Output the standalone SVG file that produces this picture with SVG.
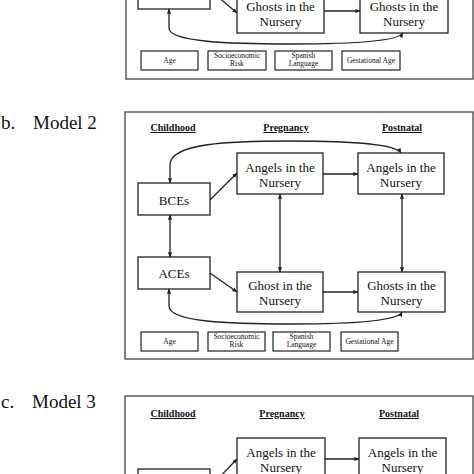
<svg xmlns="http://www.w3.org/2000/svg" width="474" height="474" viewBox="0 0 474 474">
<style>
.frame{fill:none;stroke:#444;stroke-width:1.3}
.box{fill:#fff;stroke:#222;stroke-width:1.3}
.cov{fill:#fff;stroke:#222;stroke-width:1.2}
.t{font-family:"Liberation Serif",serif;font-size:13px;fill:#111;text-anchor:middle}
.h{font-family:"Liberation Serif",serif;font-size:10px;font-weight:bold;fill:#111;text-anchor:middle;text-decoration:underline}
.c{font-family:"Liberation Serif",serif;font-size:7.5px;fill:#111;text-anchor:middle}
.lab{font-family:"Liberation Serif",serif;font-size:19px;fill:#111}
.ln{fill:none;stroke:#222;stroke-width:1.3}
</style>
<defs>
<marker id="ah" viewBox="0 0 10 10" refX="9" refY="5" markerWidth="4" markerHeight="4" orient="auto-start-reverse" markerUnits="strokeWidth">
<path d="M0,1 L10,5 L0,9 z" fill="#222"/>
</marker>
</defs>
<rect width="474" height="474" fill="#fff"/>

<g id="model1">
<rect class="frame" x="126" y="-40" width="347" height="119"/>
<g id="m1-aces"><rect class="box" x="138" y="-25" width="72" height="34"/></g>
<g id="m1-ghost1"><rect class="box" x="237" y="-7" width="87" height="40"/>
<text class="t" x="280.5" y="11">Ghosts in the</text><text class="t" x="280.5" y="26">Nursery</text></g>
<g id="m1-ghost2"><rect class="box" x="360" y="-7" width="88" height="40"/>
<text class="t" x="404" y="11">Ghosts in the</text><text class="t" x="404" y="26">Nursery</text></g>
<g id="m1-age"><rect class="cov" x="141" y="51" width="57" height="19"/><text class="c" x="169.5" y="63">Age</text></g>
<g id="m1-ses"><rect class="cov" x="208" y="51" width="58" height="19"/><text class="c" x="237" y="58">Socioeconomic</text><text class="c" x="237" y="66">Risk</text></g>
<g id="m1-span"><rect class="cov" x="275" y="51" width="57" height="19"/><text class="c" x="303.5" y="58">Spanish</text><text class="c" x="303.5" y="66">Language</text></g>
<g id="m1-gest"><rect class="cov" x="342" y="51" width="58" height="19"/><text class="c" x="371" y="63">Gestational Age</text></g>
<g id="m1-connectors">
<line class="ln" x1="210" y1="-10" x2="237" y2="13" marker-end="url(#ah)"/>
<line class="ln" x1="324" y1="11" x2="360" y2="11" marker-end="url(#ah)"/>
<path class="ln" d="M169,9 L169,28 C169,42 230,44 290,44 C350,44 398,41 403,33" marker-start="url(#ah)" marker-end="url(#ah)"/>
</g>
</g>

<g id="model2">
<text class="lab" x="1" y="129">b.</text>
<text class="lab" x="33" y="129">Model 2</text>
<rect class="frame" x="125" y="112" width="348" height="247"/>
<text class="h" x="173" y="131">Childhood</text>
<text class="h" x="286" y="131">Pregnancy</text>
<text class="h" x="402" y="131">Postnatal</text>
<g id="m2-connectors">
<path class="ln" d="M170,183 L170,165 C170,143 230,141 290,141 C350,141 396,144 401,153" marker-start="url(#ah)" marker-end="url(#ah)"/>
<line class="ln" x1="210" y1="200" x2="237" y2="173" marker-end="url(#ah)"/>
<line class="ln" x1="323" y1="174" x2="358" y2="174" marker-end="url(#ah)"/>
<line class="ln" x1="170" y1="215" x2="170" y2="257" marker-start="url(#ah)" marker-end="url(#ah)"/>
<line class="ln" x1="280" y1="194" x2="280" y2="272" marker-start="url(#ah)" marker-end="url(#ah)"/>
<line class="ln" x1="402" y1="194" x2="402" y2="272" marker-start="url(#ah)" marker-end="url(#ah)"/>
<line class="ln" x1="210" y1="273" x2="237" y2="292" marker-end="url(#ah)"/>
<line class="ln" x1="323" y1="292" x2="358" y2="292" marker-end="url(#ah)"/>
<path class="ln" d="M169,289 L169,306 C169,322 230,324 290,324 C350,324 398,321 402,312" marker-start="url(#ah)" marker-end="url(#ah)"/>
</g>
<g id="m2-bces"><rect class="box" x="138" y="183" width="72" height="32"/><text class="t" x="174" y="205">BCEs</text></g>
<g id="m2-angels1"><rect class="box" x="237" y="153" width="86" height="41"/>
<text class="t" x="280" y="172">Angels in the</text><text class="t" x="280" y="187">Nursery</text></g>
<g id="m2-angels2"><rect class="box" x="358" y="153" width="86" height="41"/>
<text class="t" x="401" y="172">Angels in the</text><text class="t" x="401" y="187">Nursery</text></g>
<g id="m2-aces"><rect class="box" x="138" y="257" width="72" height="32"/><text class="t" x="174" y="278">ACEs</text></g>
<g id="m2-ghost1"><rect class="box" x="237" y="272" width="86" height="40"/>
<text class="t" x="280" y="290">Ghost in the</text><text class="t" x="280" y="305">Nursery</text></g>
<g id="m2-ghost2"><rect class="box" x="358" y="272" width="87" height="40"/>
<text class="t" x="401.5" y="290">Ghosts in the</text><text class="t" x="401.5" y="305">Nursery</text></g>
<g id="m2-age"><rect class="cov" x="141" y="332" width="57" height="19"/><text class="c" x="169.5" y="344">Age</text></g>
<g id="m2-ses"><rect class="cov" x="208" y="332" width="57" height="19"/><text class="c" x="236.5" y="339">Socioeconomic</text><text class="c" x="236.5" y="347">Risk</text></g>
<g id="m2-span"><rect class="cov" x="273" y="332" width="57" height="19"/><text class="c" x="301.5" y="339">Spanish</text><text class="c" x="301.5" y="347">Language</text></g>
<g id="m2-gest"><rect class="cov" x="341" y="332" width="57" height="19"/><text class="c" x="369.5" y="344">Gestational Age</text></g>
</g>

<g id="model3">
<text class="lab" x="1" y="408">c.</text>
<text class="lab" x="32" y="408">Model 3</text>
<rect class="frame" x="125" y="396" width="348" height="120"/>
<text class="h" x="173" y="417">Childhood</text>
<text class="h" x="282" y="417">Pregnancy</text>
<text class="h" x="399" y="417">Postnatal</text>
<g id="m3-connectors">
<line class="ln" x1="210" y1="487" x2="237" y2="459" marker-end="url(#ah)"/>
<line class="ln" x1="325" y1="459" x2="359" y2="459" marker-end="url(#ah)"/>
</g>
<g id="m3-bces"><rect class="box" x="138" y="469" width="72" height="32"/></g>
<g id="m3-angels1"><rect class="box" x="237" y="438" width="88" height="41"/>
<text class="t" x="281" y="457">Angels in the</text><text class="t" x="281" y="472">Nursery</text></g>
<g id="m3-angels2"><rect class="box" x="359" y="438" width="87" height="41"/>
<text class="t" x="402.5" y="457">Angels in the</text><text class="t" x="402.5" y="472">Nursery</text></g>
</g>
</svg>
